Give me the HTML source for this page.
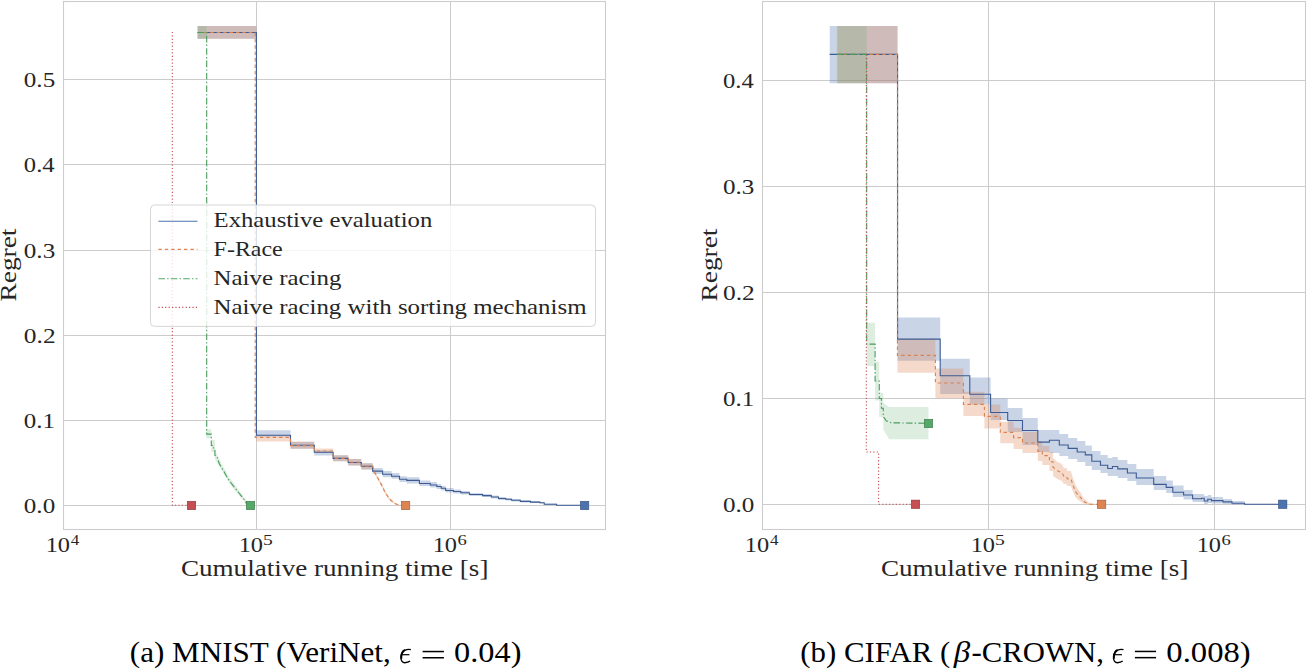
<!DOCTYPE html><html><head><meta charset="utf-8"><style>html,body{margin:0;padding:0;background:#fff;overflow:hidden}svg{display:block}</style></head><body>
<svg width="1309" height="669" viewBox="0 0 1309 669">
<rect width="1309" height="669" fill="#fff"/>
<g stroke="#cccccc" stroke-width="1" fill="none">
<line x1="256.5" y1="1.5" x2="256.5" y2="529.5"/>
<line x1="450.5" y1="1.5" x2="450.5" y2="529.5"/>
<line x1="63.5" y1="505.5" x2="605.5" y2="505.5"/>
<line x1="63.5" y1="420.5" x2="605.5" y2="420.5"/>
<line x1="63.5" y1="335.5" x2="605.5" y2="335.5"/>
<line x1="63.5" y1="250.5" x2="605.5" y2="250.5"/>
<line x1="63.5" y1="164.5" x2="605.5" y2="164.5"/>
<line x1="63.5" y1="79.5" x2="605.5" y2="79.5"/>
</g>
<path d="M197.6 26 L256.4 26 L256.4 430.2 L290.5 430.2 L290.5 441.8 L314.3 441.8 L314.3 450.5 L333.1 450.5 L333.1 455.3 L348.2 455.3 L348.2 459.1 L361.3 459.1 L361.3 463.2 L372.6 463.2 L372.6 468 L382.6 468 L382.6 471.1 L391.6 471.1 L391.6 472.9 L399.5 472.9 L399.5 476.3 L406.7 476.3 L406.7 477.3 L419.4 477.3 L419.4 480.5 L430.3 480.5 L430.3 482 L436.8 482 L436.8 484 L441.2 484 L441.2 486 L445.6 486 L445.6 488 L453.5 488 L453.5 489.5 L460.8 489.5 L460.8 491 L469.5 491 L469.5 493 L482.6 493 L482.6 494 L491.3 494 L491.3 495.5 L498.5 495.5 L498.5 497 L505.8 497 L505.8 498 L511.6 498 L511.6 499 L520.3 499 L520.3 500.3 L530.5 500.3 L530.5 501 L539.9 501 L539.9 502 L544.2 502 L544.2 503.6 L556.6 503.6 L556.6 505 L584.6 505 L584.6 505.6 L556.6 505.6 L556.6 505 L544.2 505 L544.2 503.6 L539.9 503.6 L539.9 503 L530.5 503 L530.5 502.5 L520.3 502.5 L520.3 501.5 L511.6 501.5 L511.6 500.5 L505.8 500.5 L505.8 500 L498.5 500 L498.5 498.5 L491.3 498.5 L491.3 497 L482.6 497 L482.6 496 L469.5 496 L469.5 494.5 L460.8 494.5 L460.8 493.5 L453.5 493.5 L453.5 492.5 L445.6 492.5 L445.6 490.5 L441.2 490.5 L441.2 489 L436.8 489 L436.8 487.5 L430.3 487.5 L430.3 486 L419.4 486 L419.4 483.5 L406.7 483.5 L406.7 482.1 L399.5 482.1 L399.5 478.7 L391.6 478.7 L391.6 477.3 L382.6 477.3 L382.6 473.9 L372.6 473.9 L372.6 469.4 L361.3 469.4 L361.3 465.6 L348.2 465.6 L348.2 461.2 L333.1 461.2 L333.1 455.6 L314.3 455.6 L314.3 448.7 L290.5 448.7 L290.5 436.5 L256.4 436.5 L256.4 38.7 L197.6 38.7 Z" fill="#4C72B0" fill-opacity="0.3"/>
<path d="M197.6 26 L256.4 26 L256.4 435.5 L290.5 435.5 L290.5 441.8 L314.3 441.8 L314.3 448.4 L333.1 448.4 L333.1 455.3 L348.2 455.3 L348.2 459.1 L361.3 459.1 L361.3 463.2 L372.6 463.2 L374.7 470.5 L378.1 476.8 L382.3 484.3 L384.8 490 L389.7 497.8 L394.7 502.5 L398.8 504.6 L405.6 505.3 L405.6 505.5 L398.8 505.4 L394.7 504.3 L389.7 500.8 L384.8 493.8 L382.3 488.3 L378.1 480.6 L374.7 474.5 L372.6 469.4 L361.3 469.4 L361.3 465.6 L348.2 465.6 L348.2 461.2 L333.1 461.2 L333.1 453 L314.3 453 L314.3 448.7 L290.5 448.7 L290.5 441.5 L256.4 441.5 L256.4 38.7 L197.6 38.7 Z" fill="#DD8452" fill-opacity="0.3"/>
<path d="M197.6 26 L206.7 26 L206.7 38.7 L197.6 38.7 Z" fill="#55A868" fill-opacity="0.2"/>
<path d="M206.3 429.2 L211.3 429.2 L211.3 440 L214.9 440 L214.9 450 L219.1 459 L223.4 467 L229 477 L239 490.5 L244.6 498.5 L250.4 505 L250.4 505.6 L244.6 502 L239 495.5 L229 483 L223.4 473 L219.1 466 L214.9 459 L214.9 452 L211.3 452 L211.3 438.4 L206.3 438.4 Z" fill="#55A868" fill-opacity="0.2"/>
<path d="M197.6 32.5 L256.4 32.5 L256.4 435.3 L290.5 435.3 L290.5 445.3 L314.3 445.3 L314.3 452.2 L333.1 452.2 L333.1 458.4 L348.2 458.4 L348.2 462.5 L361.3 462.5 L361.3 466.3 L372.6 466.3 L372.6 471.1 L382.6 471.1 L382.6 474.2 L391.6 474.2 L391.6 476.3 L399.5 476.3 L399.5 479.2 L406.7 479.2 L406.7 480.4 L419.4 480.4 L419.4 483.5 L430.3 483.5 L430.3 485 L436.8 485 L436.8 486.5 L441.2 486.5 L441.2 488.3 L445.6 488.3 L445.6 490.5 L453.5 490.5 L453.5 491.5 L460.8 491.5 L460.8 492.7 L469.5 492.7 L469.5 494.5 L482.6 494.5 L482.6 495.6 L491.3 495.6 L491.3 497 L498.5 497 L498.5 498.5 L505.8 498.5 L505.8 499.2 L511.6 499.2 L511.6 500.3 L520.3 500.3 L520.3 501.4 L530.5 501.4 L530.5 502.1 L539.9 502.1 L539.9 502.8 L544.2 502.8 L544.2 504.3 L556.6 504.3 L556.6 505.3 L584.6 505.3" fill="none" stroke="#3d5b92" stroke-width="1.1"/>
<path d="M197.6 32.5 L255.2 32.5 L255.2 437.4 L290.5 437.4 L290.5 445.6 L314.3 445.6 L314.3 451 L333.1 451 L333.1 458.4 L348.2 458.4 L348.2 462.3 L361.3 462.3 L361.3 466.3 L372.6 466.3 L374.7 472.5 L378.1 478.7 L382.3 486.3 L384.8 491.9 L389.7 499.3 L394.7 503.4 L398.8 505 L405.6 505.4" fill="none" stroke="#d9804f" stroke-width="1.1" stroke-dasharray="3.4 3"/>
<path d="M197.6 32.5 L206.7 32.5 L206.7 434.1 L211.3 434.1 L211.3 445.5 L212.7 445.5 L212.7 447.6 L214.9 448.3 L214.9 455.4 L217 456.1 L219.1 463.2 L221.2 467.5 L223.4 470.3 L225.5 474.6 L229 480.2 L233.3 485.9 L239 493 L244.6 500.1 L247 504.6 L250.4 505.3" fill="none" stroke="#4a9c5e" stroke-width="1.1" stroke-dasharray="6.6 2.2 1.4 2.2"/>
<path d="M172.3 31.9 L172.3 505.2 L191.5 505.2" fill="none" stroke="#c0474c" stroke-width="1.05" stroke-dasharray="1.2 2.2"/>
<rect x="187.3" y="501.3" width="8.4" height="8.4" fill="#C44E52" stroke="#8a3538" stroke-width="0.6"/>
<rect x="246.3" y="501.3" width="8.4" height="8.4" fill="#55A868" stroke="#3b7549" stroke-width="0.6"/>
<rect x="401.4" y="501.3" width="8.4" height="8.4" fill="#DD8452" stroke="#9b5c39" stroke-width="0.6"/>
<rect x="580.4" y="501.3" width="8.4" height="8.4" fill="#4C72B0" stroke="#35507b" stroke-width="0.6"/>
<rect x="63.5" y="1.5" width="542" height="528" fill="none" stroke="#cccccc" stroke-width="1.1"/>
<rect x="150.5" y="205" width="445" height="121.4" rx="4" ry="4" fill="#ffffff" fill-opacity="0.8" stroke="#cccccc" stroke-opacity="0.8" stroke-width="1"/>
<g fill="#262626" font-family='"Liberation Serif", serif'>
<line x1="158.4" y1="221.2" x2="197.5" y2="221.2" stroke="#4C72B0" stroke-width="1.1"/>
<text x="213.59" y="227.4" font-size="21.5" textLength="218.68" lengthAdjust="spacingAndGlyphs">Exhaustive evaluation</text>
<line x1="158.4" y1="249.4" x2="197.5" y2="249.4" stroke="#DD8452" stroke-width="1.1" stroke-dasharray="3.4 3"/>
<text x="213.61" y="256.1" font-size="21.5" textLength="69.12" lengthAdjust="spacingAndGlyphs">F-Race</text>
<line x1="158.4" y1="278.7" x2="197.5" y2="278.7" stroke="#55A868" stroke-width="1.1" stroke-dasharray="6.6 2.2 1.4 2.2"/>
<text x="213.58" y="284.8" font-size="21.5" textLength="127.79" lengthAdjust="spacingAndGlyphs">Naive racing</text>
<line x1="158.4" y1="307.4" x2="197.5" y2="307.4" stroke="#C44E52" stroke-width="1.1" stroke-dasharray="1.2 2.2"/>
<text x="213.58" y="313.5" font-size="21.5" textLength="372.9" lengthAdjust="spacingAndGlyphs">Naive racing with sorting mechanism</text>
</g>
<g stroke="#cccccc" stroke-width="1" fill="none">
<line x1="988.5" y1="1.5" x2="988.5" y2="529.5"/>
<line x1="1214.5" y1="1.5" x2="1214.5" y2="529.5"/>
<line x1="762.5" y1="504.5" x2="1305.5" y2="504.5"/>
<line x1="762.5" y1="398.5" x2="1305.5" y2="398.5"/>
<line x1="762.5" y1="292.5" x2="1305.5" y2="292.5"/>
<line x1="762.5" y1="186.5" x2="1305.5" y2="186.5"/>
<line x1="762.5" y1="80.5" x2="1305.5" y2="80.5"/>
</g>
<path d="M829.7 26.1 L897.6 26.1 L897.6 317.4 L940.2 317.4 L940.2 358.7 L969.8 358.7 L969.8 377.6 L990.6 377.6 L990.6 398.5 L1007.7 398.5 L1007.7 408 L1022.5 408 L1022.5 418 L1037.8 418 L1037.8 430 L1049.4 430 L1049.4 430 L1059.3 430 L1059.3 434 L1068.2 434 L1068.2 438 L1077.2 438 L1077.2 441 L1085.3 441 L1085.3 445.5 L1091.8 445.5 L1091.8 451 L1100.5 451 L1100.5 455 L1107.7 455 L1107.7 458 L1112.4 458 L1112.4 457 L1117.8 457 L1117.8 460 L1127.4 460 L1127.4 464 L1136.3 464 L1136.3 469 L1153.7 469 L1153.7 476 L1166.2 476 L1166.2 480.5 L1172.8 480.5 L1172.8 485.6 L1183.6 485.6 L1183.6 490 L1192.6 490 L1192.6 494 L1201.5 494 L1201.5 494 L1204.2 494 L1204.2 496 L1207.8 496 L1207.8 495 L1211.4 495 L1211.4 497 L1223 497 L1223 499 L1232 499 L1232 501 L1244.6 501 L1244.6 504 L1282.7 504 L1282.7 504.4 L1244.6 504.4 L1244.6 504.5 L1232 504.5 L1232 504 L1223 504 L1223 503.5 L1211.4 503.5 L1211.4 503 L1207.8 503 L1207.8 504 L1204.2 504 L1204.2 502 L1201.5 502 L1201.5 502 L1192.6 502 L1192.6 499.5 L1183.6 499.5 L1183.6 497 L1172.8 497 L1172.8 493 L1166.2 493 L1166.2 490 L1153.7 490 L1153.7 485 L1136.3 485 L1136.3 481 L1127.4 481 L1127.4 478 L1117.8 478 L1117.8 476 L1112.4 476 L1112.4 476 L1107.7 476 L1107.7 473 L1100.5 473 L1100.5 470 L1091.8 470 L1091.8 465.9 L1085.3 465.9 L1085.3 462 L1077.2 462 L1077.2 459 L1068.2 459 L1068.2 456 L1059.3 456 L1059.3 453 L1049.4 453 L1049.4 452 L1037.8 452 L1037.8 445 L1022.5 445 L1022.5 432 L1007.7 432 L1007.7 420 L990.6 420 L990.6 404.4 L969.8 404.4 L969.8 394 L940.2 394 L940.2 360.7 L897.6 360.7 L897.6 83.2 L829.7 83.2 Z" fill="#4C72B0" fill-opacity="0.3"/>
<path d="M837.5 26.1 L897.4 26.1 L897.4 338.7 L935.4 338.7 L935.4 368.4 L963.4 368.4 L963.4 391.7 L984.4 391.7 L984.4 404.4 L1000.3 404.4 L1000.3 421.8 L1013.6 421.8 L1013.6 427.7 L1022.5 427.7 L1022.5 432 L1037.8 432 L1037.8 441 L1042.3 441 L1042.3 446 L1049.4 446 L1049.4 452 L1053 452 L1053 458 L1057.5 462 L1062 464 L1063.8 468 L1066.5 468 L1067.3 471 L1070.9 471 L1072.7 477 L1075.4 485 L1078.1 489.5 L1080.8 493 L1083.5 498 L1088 502 L1090.6 503.5 L1101.6 504.2 L1101.6 504.4 L1090.6 504.8 L1088 504.6 L1083.5 503.5 L1080.8 501.5 L1078.1 500 L1075.4 497 L1072.7 491 L1070.9 486 L1067.3 486 L1066.5 484 L1063.8 484 L1062 481 L1057.5 479 L1053 476 L1053 471 L1049.4 471 L1049.4 465 L1042.3 465 L1042.3 461 L1037.8 461 L1037.8 453 L1022.5 453 L1022.5 449 L1013.6 449 L1013.6 443.2 L1000.3 443.2 L1000.3 428.6 L984.4 428.6 L984.4 416 L963.4 416 L963.4 398.2 L935.4 398.2 L935.4 372.8 L897.4 372.8 L897.4 83.2 L837.5 83.2 Z" fill="#DD8452" fill-opacity="0.3"/>
<path d="M836.8 26.1 L866.7 26.1 L866.7 322.8 L875.1 322.8 L875.1 361.6 L879.2 361.6 L879.2 392.7 L883.3 392.7 L883.3 403 L889.1 407 L928.5 407 L928.5 439.3 L889.1 439.3 L883.3 429.6 L883.3 417 L879.2 417 L879.2 400.4 L875.1 400.4 L875.1 365.9 L866.7 365.9 L866.7 83.2 L836.8 83.2 Z" fill="#55A868" fill-opacity="0.2"/>
<path d="M829.7 54.4 L897.6 54.4 L897.6 339.1 L940.2 339.1 L940.2 375.8 L969.8 375.8 L969.8 394.3 L990.6 394.3 L990.6 412.5 L1007.7 412.5 L1007.7 420.5 L1022.5 420.5 L1022.5 430.5 L1037.8 430.5 L1037.8 442.1 L1049.4 442.1 L1049.4 440.3 L1059.3 440.3 L1059.3 445 L1068.2 445 L1068.2 448.4 L1077.2 448.4 L1077.2 452 L1085.3 452 L1085.3 454.9 L1091.8 454.9 L1091.8 461.3 L1100.5 461.3 L1100.5 465.3 L1107.7 465.3 L1107.7 468.5 L1112.4 468.5 L1112.4 466.5 L1117.8 466.5 L1117.8 468.9 L1127.4 468.9 L1127.4 473 L1136.3 473 L1136.3 478 L1153.7 478 L1153.7 484.4 L1166.2 484.4 L1166.2 487.4 L1172.8 487.4 L1172.8 492.2 L1183.6 492.2 L1183.6 495 L1192.6 495 L1192.6 498.8 L1201.5 498.8 L1201.5 498.3 L1204.2 498.3 L1204.2 501 L1207.8 501 L1207.8 499.2 L1211.4 499.2 L1211.4 500.6 L1223 500.6 L1223 501.9 L1232 501.9 L1232 503.2 L1244.6 503.2 L1244.6 504.2 L1282.7 504.2" fill="none" stroke="#3d5b92" stroke-width="1.1"/>
<path d="M837.5 54.4 L897.4 54.4 L897.4 355.4 L935.4 355.4 L935.4 383 L963.4 383 L963.4 404.4 L984.4 404.4 L984.4 416.4 L1000.3 416.4 L1000.3 432.4 L1013.6 432.4 L1013.6 437.6 L1022.5 437.6 L1022.5 443 L1037.8 443 L1037.8 451.1 L1042.3 451.1 L1042.3 455.6 L1049.4 455.6 L1049.4 461.8 L1053 461.8 L1053 467.2 L1057.5 470.8 L1062 472.6 L1063.8 476.2 L1066.5 476.2 L1067.3 478.9 L1070.9 478.9 L1072.7 484.2 L1075.4 491.4 L1078.1 495 L1080.8 497.7 L1083.5 501.3 L1088 503.6 L1090.6 504.3 L1101.6 504.3" fill="none" stroke="#d9804f" stroke-width="1.1" stroke-dasharray="3.4 3"/>
<path d="M836.8 54.4 L866.7 54.4 L866.7 344.1 L875.1 344.1 L875.1 381 L879.3 381 L879.3 398.5 L881.4 398.5 L881.4 408.2 L883.3 408.2 L883.3 417 L884.3 417.9 L886.2 420.8 L891.1 422.8 L928.5 423.3" fill="none" stroke="#4a9c5e" stroke-width="1.1" stroke-dasharray="6.6 2.2 1.4 2.2"/>
<path d="M866.3 54.4 L866.3 452 L878.6 452 L878.6 504.3 L915.5 504.3" fill="none" stroke="#c0474c" stroke-width="1.05" stroke-dasharray="1.2 2.2"/>
<rect x="911.3" y="500.1" width="8.4" height="8.4" fill="#C44E52" stroke="#8a3538" stroke-width="0.6"/>
<rect x="924.3" y="419.3" width="8.4" height="8.4" fill="#55A868" stroke="#3b7549" stroke-width="0.6"/>
<rect x="1097.4" y="500.1" width="8.4" height="8.4" fill="#DD8452" stroke="#9b5c39" stroke-width="0.6"/>
<rect x="1278.5" y="500.1" width="8.4" height="8.4" fill="#4C72B0" stroke="#35507b" stroke-width="0.6"/>
<rect x="762.5" y="1.5" width="543" height="528" fill="none" stroke="#cccccc" stroke-width="1.1"/>
<g fill="#262626" font-family='"Liberation Serif", serif'>
<text x="23.85" y="512.9" font-size="21.5" textLength="31.31" lengthAdjust="spacingAndGlyphs">0.0</text>
<text x="23.85" y="427.9" font-size="21.5" textLength="31.15" lengthAdjust="spacingAndGlyphs">0.1</text>
<text x="23.83" y="342.9" font-size="21.5" textLength="31.77" lengthAdjust="spacingAndGlyphs">0.2</text>
<text x="23.85" y="257.9" font-size="21.5" textLength="31.33" lengthAdjust="spacingAndGlyphs">0.3</text>
<text x="23.86" y="171.9" font-size="21.5" textLength="30.72" lengthAdjust="spacingAndGlyphs">0.4</text>
<text x="23.85" y="86.9" font-size="21.5" textLength="31.33" lengthAdjust="spacingAndGlyphs">0.5</text>
<text x="722.95" y="511.9" font-size="21.5" textLength="31.31" lengthAdjust="spacingAndGlyphs">0.0</text>
<text x="722.95" y="405.9" font-size="21.5" textLength="31.15" lengthAdjust="spacingAndGlyphs">0.1</text>
<text x="722.93" y="299.9" font-size="21.5" textLength="31.77" lengthAdjust="spacingAndGlyphs">0.2</text>
<text x="722.95" y="193.9" font-size="21.5" textLength="31.33" lengthAdjust="spacingAndGlyphs">0.3</text>
<text x="722.96" y="87.9" font-size="21.5" textLength="30.72" lengthAdjust="spacingAndGlyphs">0.4</text>
<text x="45.66" y="551.9" font-size="21.5" textLength="24.37" lengthAdjust="spacingAndGlyphs">10</text>
<text x="70.87" y="544.9" font-size="15.5" textLength="8.5" lengthAdjust="spacingAndGlyphs">4</text>
<text x="238.66" y="551.9" font-size="21.5" textLength="24.37" lengthAdjust="spacingAndGlyphs">10</text>
<text x="263.06" y="544.9" font-size="15.5" textLength="9.81" lengthAdjust="spacingAndGlyphs">5</text>
<text x="432.66" y="551.9" font-size="21.5" textLength="24.37" lengthAdjust="spacingAndGlyphs">10</text>
<text x="457.41" y="544.9" font-size="15.5" textLength="9.25" lengthAdjust="spacingAndGlyphs">6</text>
<text x="744.76" y="551.9" font-size="21.5" textLength="24.37" lengthAdjust="spacingAndGlyphs">10</text>
<text x="769.97" y="544.9" font-size="15.5" textLength="8.5" lengthAdjust="spacingAndGlyphs">4</text>
<text x="970.66" y="551.9" font-size="21.5" textLength="24.37" lengthAdjust="spacingAndGlyphs">10</text>
<text x="995.06" y="544.9" font-size="15.5" textLength="9.81" lengthAdjust="spacingAndGlyphs">5</text>
<text x="1196.66" y="551.9" font-size="21.5" textLength="24.37" lengthAdjust="spacingAndGlyphs">10</text>
<text x="1221.41" y="544.9" font-size="15.5" textLength="9.25" lengthAdjust="spacingAndGlyphs">6</text>
<text x="180.99" y="576" font-size="23.5" textLength="307.42" lengthAdjust="spacingAndGlyphs">Cumulative running time [s]</text>
<text x="880.99" y="576" font-size="23.5" textLength="307.42" lengthAdjust="spacingAndGlyphs">Cumulative running time [s]</text>
<text x="-0.79" y="0" font-size="23.5" textLength="72.95" lengthAdjust="spacingAndGlyphs" transform="translate(16.4 300.7) rotate(-90)">Regret</text>
<text x="-0.79" y="0" font-size="23.5" textLength="72.95" lengthAdjust="spacingAndGlyphs" transform="translate(716.9 300.7) rotate(-90)">Regret</text>
</g>
<g fill="#000" font-family='"Liberation Serif", serif'>
<text x="129.86" y="662.3" font-size="30" textLength="260.87" lengthAdjust="spacingAndGlyphs">(a) MNIST (VeriNet,</text>
<path d="M410.9 649.6 C407 648.6 401.6 650.5 400.9 656.3 C400.4 660.5 402.5 662.7 404.8 662.7 C407 662.7 409 662 410.1 661.1" fill="none" stroke="#000" stroke-width="1.35"/>
<path d="M405 649.9 C402.2 651.1 401.2 654.2 401.3 658.7" fill="none" stroke="#000" stroke-width="1.9"/>
<path d="M402 654.7 L409.4 654.7" stroke="#000" stroke-width="1.2"/>
<rect x="422.6" y="650.8" width="21.3" height="1.5" fill="#000"/>
<rect x="422.6" y="657" width="21.3" height="1.5" fill="#000"/>
<text x="454.07" y="662.3" font-size="30" textLength="67.35" lengthAdjust="spacingAndGlyphs">0.04)</text>
<text x="800.37" y="662.3" font-size="30" textLength="149.91" lengthAdjust="spacingAndGlyphs">(b) CIFAR (</text>
<text x="953.73" y="662.3" font-size="30" textLength="16.42" lengthAdjust="spacingAndGlyphs" font-style="italic">β</text>
<text x="971.56" y="662.3" font-size="30" textLength="132.28" lengthAdjust="spacingAndGlyphs">-CROWN,</text>
<path d="M1123.5 649.6 C1119.6 648.6 1114.2 650.5 1113.5 656.3 C1113 660.5 1115.1 662.7 1117.4 662.7 C1119.6 662.7 1121.6 662 1122.7 661.1" fill="none" stroke="#000" stroke-width="1.35"/>
<path d="M1117.6 649.9 C1114.8 651.1 1113.8 654.2 1113.9 658.7" fill="none" stroke="#000" stroke-width="1.9"/>
<path d="M1114.6 654.7 L1122 654.7" stroke="#000" stroke-width="1.2"/>
<rect x="1134.9" y="650.7" width="21.2" height="1.5" fill="#000"/>
<rect x="1134.9" y="656.9" width="21.2" height="1.5" fill="#000"/>
<text x="1166.36" y="662.3" font-size="30" textLength="84.28" lengthAdjust="spacingAndGlyphs">0.008)</text>
</g>
</svg></body></html>
